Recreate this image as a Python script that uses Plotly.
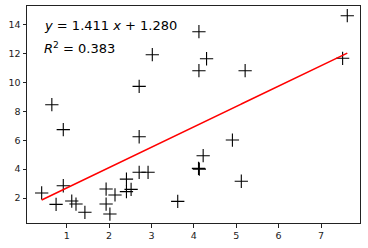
import numpy as np
import plotly.graph_objects as go

x_vals = [0.41, 0.75, 0.92, 0.92, 1.12, 1.22, 1.43, 1.93, 1.93, 2.14, 2.02, 2.41, 2.41, 2.52,
          2.71, 2.92, 2.71, 3.62, 0.65, 2.71, 3.02, 4.12, 4.30, 4.12, 5.21, 7.62, 7.51,
          4.91, 4.22, 4.11, 4.13, 5.12]
y_vals = [2.35, 1.56, 6.73, 2.85, 1.79, 1.58, 1.01, 2.62, 1.58, 2.21, 0.89, 3.31, 2.44, 2.60,
          3.78, 3.78, 6.24, 1.77, 8.46, 9.73, 11.92, 13.51, 11.64, 10.81, 10.81, 14.62, 11.67,
          6.01, 4.93, 4.05, 4.00, 3.16]
slope = 1.411
intercept = 1.280
r_squared = 0.383
x_ticks = [1, 2, 3, 4, 5, 6, 7]
y_ticks = [2, 4, 6, 8, 10, 12, 14]

x = np.array(x_vals)
y_fit = slope * x + intercept

fig = go.Figure()
fig.add_trace(go.Scatter(x=x_vals, y=y_vals, mode="markers",
                         marker=dict(symbol="cross-thin", size=9.5,
                                     line=dict(color="black", width=1.1)),
                         showlegend=False, hoverinfo="skip"))
fig.add_trace(go.Scatter(x=x, y=y_fit, mode="lines",
                         line=dict(color="red", width=1.5),
                         showlegend=False, hoverinfo="skip"))

fig.add_annotation(x=0.045, y=0.912, xref="paper", yref="paper",
                   text=f"<i>y</i> = {slope:.3f} <i>x</i> + {intercept:.3f}",
                   showarrow=False, xanchor="left", yanchor="middle",
                   font=dict(family="DejaVu Sans", size=13, color="black"))
fig.add_annotation(x=0.045, y=0.808, xref="paper", yref="paper",
                   text=f"<i>R</i><sup>2</sup> = {r_squared:.3f}",
                   showarrow=False, xanchor="left", yanchor="middle",
                   font=dict(family="DejaVu Sans", size=13, color="black"))

axis_common = dict(showline=True, linecolor="#222", linewidth=1, mirror=True,
                   showgrid=False, zeroline=False, ticks="outside", ticklen=3.5,
                   tickwidth=1, tickcolor="#222",
                   tickfont=dict(family="DejaVu Sans", size=9.5, color="#222"))
fig.update_xaxes(range=[0.064, 7.92], tickvals=x_ticks, **axis_common)
fig.update_yaxes(range=[0.27, 15.29], tickvals=y_ticks, **axis_common)

fig.update_layout(width=368, height=248, margin=dict(l=27, r=8, t=6, b=25),
                  plot_bgcolor="white", paper_bgcolor="white")
fig.write_html("out.html")
